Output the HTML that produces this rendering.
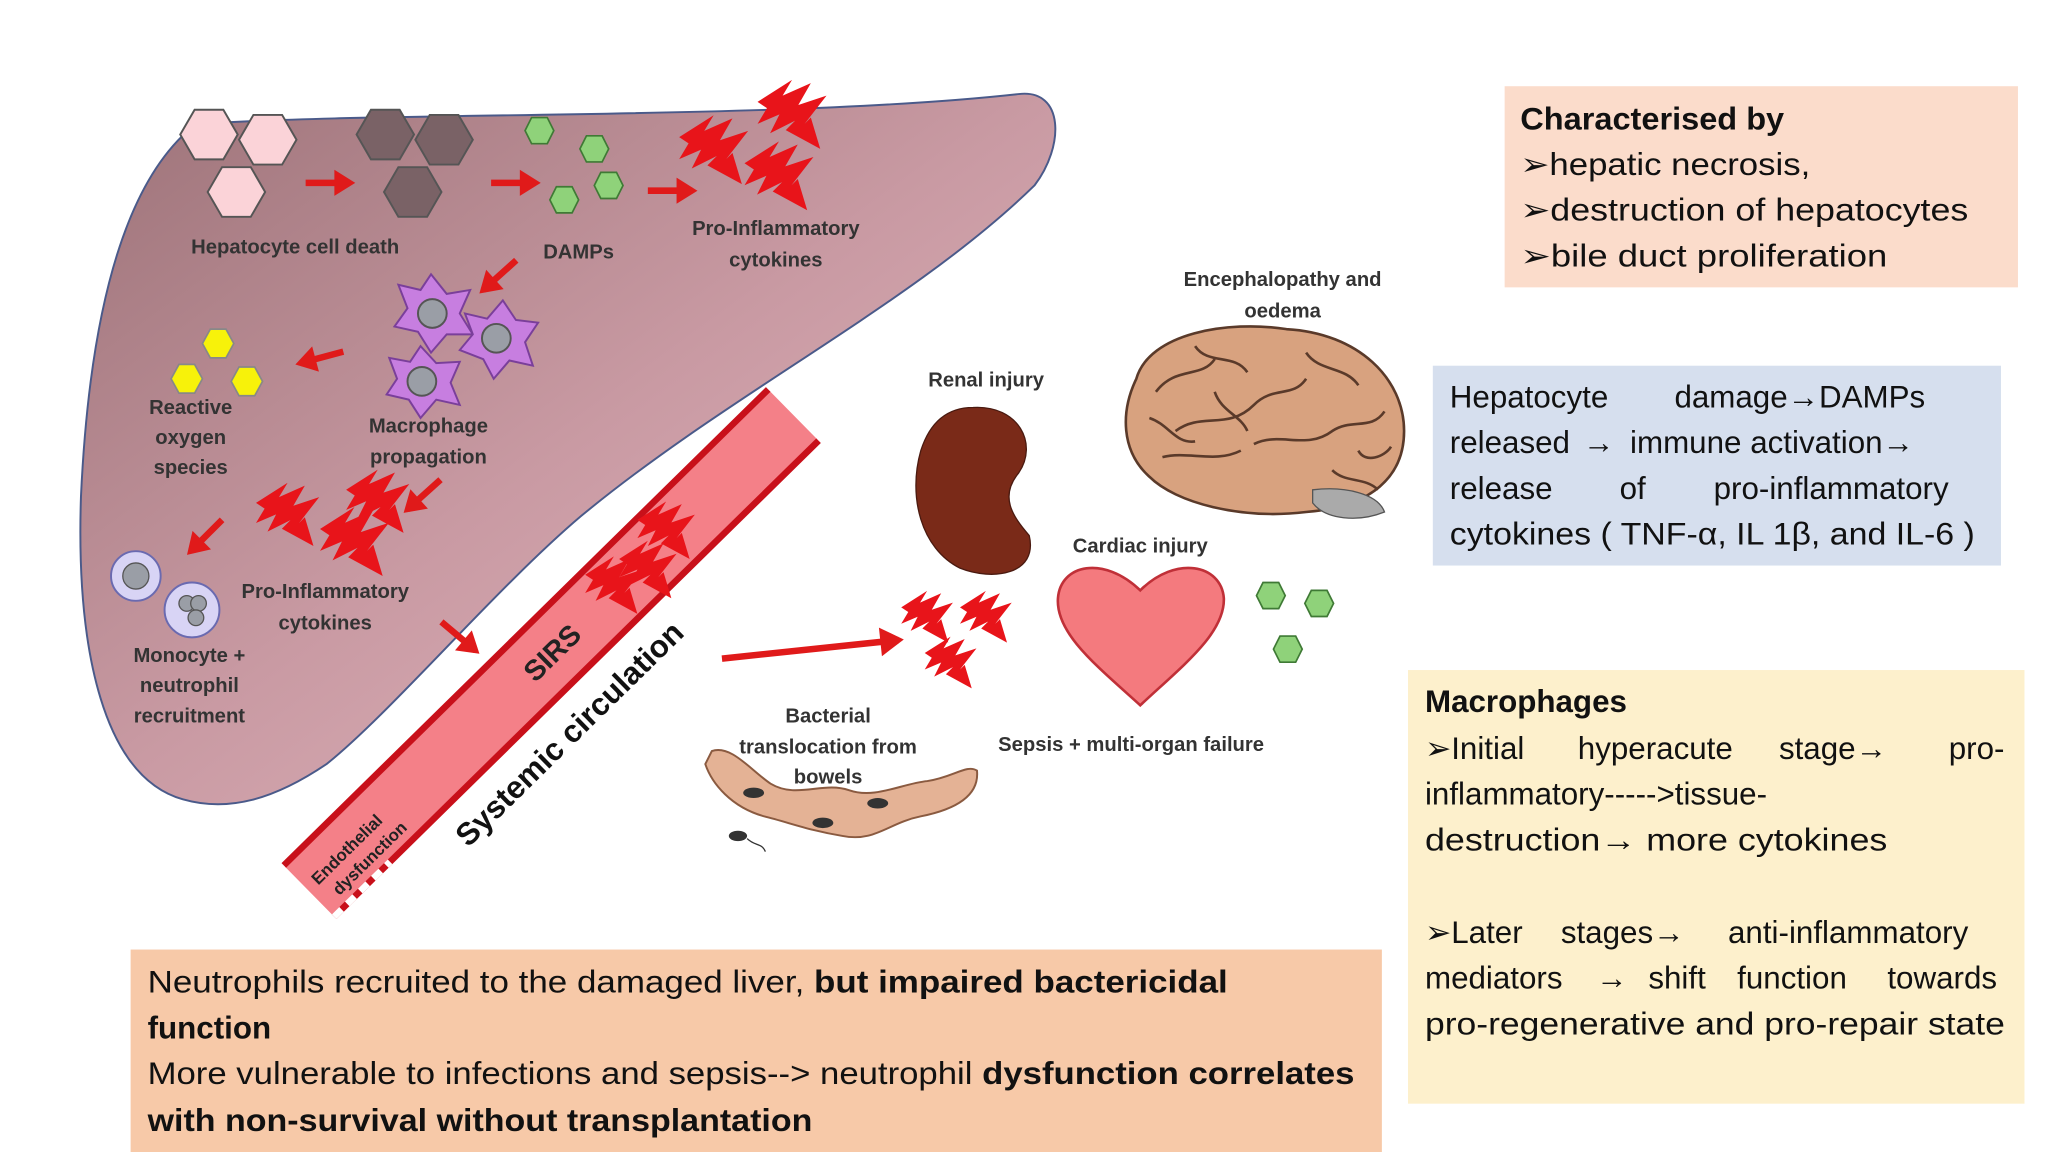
<!DOCTYPE html>
<html><head><meta charset="utf-8"><style>
html,body{margin:0;padding:0;background:#fff}
svg{display:block}
.lb{font-family:"Liberation Sans",sans-serif;font-weight:bold;font-size:15.5px;fill:#333;text-anchor:middle}
.bx{font-family:"Liberation Sans",sans-serif;font-size:24px;fill:#111}
</style></head><body>
<svg width="2048" height="1152" viewBox="0 0 1568 882" preserveAspectRatio="none" xmlns="http://www.w3.org/2000/svg">
<defs>
<linearGradient id="lg" x1="0" y1="0" x2="1" y2="1">
<stop offset="0" stop-color="#9c7278"/><stop offset="0.5" stop-color="#c99aa3"/><stop offset="1" stop-color="#e6bcc3"/>
</linearGradient>
<polygon id="bolt" points="0,0 22,-14 16,-4 34,-12 26,2 44,-4 30,14 34,10 40,30 18,18 24,12 8,20 14,8 0,14 6,4" fill="#e8141a"/>
<g id="arr"><line x1="0" y1="0" x2="-34" y2="0" stroke="#e01a1a" stroke-width="5"/><polygon points="4,0 -12,-10 -12,10" fill="#e01a1a"/></g>
</defs>
<rect width="1568" height="882" fill="#fff"/>
<path d="M140,612 C80,595 58,500 62,380 C68,250 92,140 150,95 C300,85 600,92 780,72 C815,68 815,112 792,142 C700,232 560,300 445,395 C380,450 300,545 250,585 C210,612 175,622 140,612 Z" fill="url(#lg)" stroke="#4a5a8a" stroke-width="1.5"/>
<g stroke="#555" stroke-width="1.5">
<g fill="#fbd3d8">
<polygon points="138,103 149,84 171,84 182,103 171,122 149,122"/>
<polygon points="183,107 194,88 216,88 227,107 216,126 194,126"/>
<polygon points="159,147 170,128 192,128 203,147 192,166 170,166"/>
</g>
<g fill="#7a6266">
<polygon points="273,103 284,84 306,84 317,103 306,122 284,122"/>
<polygon points="318,107 329,88 351,88 362,107 351,126 329,126"/>
<polygon points="294,147 305,128 327,128 338,147 327,166 305,166"/>
</g>
</g>
<g fill="#8fd27a" stroke="#3f7a35" stroke-width="1.3">
<polygon points="402,100 407,90 419,90 424,100 419,110 407,110"/>
<polygon points="444,114 449,104 461,104 466,114 461,124 449,124"/>
<polygon points="421,153 426,143 438,143 443,153 438,163 426,163"/>
<polygon points="455,142 460,132 472,132 477,142 472,152 460,152"/>
<polygon points="552,343 557,333 569,333 574,343 569,353 557,353"/>
<polygon points="521,371 526,361 538,361 543,371 538,381 526,381"/>
<polygon points="555,374 560,364 572,364 577,374 572,384 560,384"/>
<polygon points="962,456 967,446 979,446 984,456 979,466 967,466"/>
<polygon points="999,462 1004,452 1016,452 1021,462 1016,472 1004,472"/>
<polygon points="975,497 980,487 992,487 997,497 992,507 980,507"/>
</g>
<g fill="#f7f20a" stroke="#888" stroke-width="1.3">
<polygon points="155,263 161,252 173,252 179,263 173,274 161,274"/>
<polygon points="131,290 137,279 149,279 155,290 149,301 137,301"/>
<polygon points="177,292 183,281 195,281 201,292 195,303 183,303"/>
</g>
<use href="#bolt" transform="translate(520,105) scale(1.2)"/>
<use href="#bolt" transform="translate(580,78) scale(1.2)"/>
<use href="#bolt" transform="translate(570,125) scale(1.2)"/>
<use href="#bolt" transform="translate(196,385) scale(1.1)"/>
<use href="#bolt" transform="translate(265,375) scale(1.1)"/>
<use href="#bolt" transform="translate(245,405) scale(1.2)"/>
<use href="#bolt" transform="translate(690,465) scale(0.9)"/>
<use href="#bolt" transform="translate(735,465) scale(0.9)"/>
<use href="#bolt" transform="translate(708,500) scale(0.9)"/>
<use href="#arr" transform="translate(268,140)"/>
<use href="#arr" transform="translate(410,140)"/>
<use href="#arr" transform="translate(530,146)"/>
<use href="#arr" transform="translate(370,222) rotate(138)"/>
<use href="#arr" transform="translate(230,278) rotate(165)"/>
<use href="#arr" transform="translate(312,390) rotate(138)"/>
<use href="#arr" transform="translate(146,422) rotate(135)"/>
<use href="#arr" transform="translate(364,498) rotate(40)"/>
<g transform="translate(688,490) rotate(-6)"><line x1="0" y1="0" x2="-136" y2="0" stroke="#e01a1a" stroke-width="5"/><polygon points="4,0 -14,-11 -14,11" fill="#e01a1a"/></g>
<g fill="#c77ee0" stroke="#7a3f9a" stroke-width="1.5">
<polygon points="330,210 342,225 360,222 352,240 362,256 342,256 330,270 320,254 302,250 312,236 305,218 322,222"/>
<polygon points="385,230 395,245 412,247 402,262 408,280 390,276 378,290 370,275 352,268 362,256 356,240 373,244"/>
<polygon points="322,265 334,278 352,277 345,293 352,310 334,306 322,320 313,306 296,302 304,290 298,274 314,277"/>
</g>
<g fill="#9a9ea6" stroke="#555" stroke-width="1.5">
<circle cx="331" cy="240" r="11"/><circle cx="380" cy="259" r="11"/><circle cx="323" cy="292" r="11"/>
</g>
<circle cx="104" cy="441" r="19" fill="#d8d4f5" stroke="#6a6ab0" stroke-width="1.5"/>
<circle cx="104" cy="441" r="10" fill="#9a9ea6" stroke="#555"/>
<circle cx="147" cy="467" r="21" fill="#d8d4f5" stroke="#6a6ab0" stroke-width="1.5"/>
<circle cx="143" cy="462" r="6" fill="#9a9ea6" stroke="#555"/><circle cx="152" cy="462" r="6" fill="#9a9ea6" stroke="#555"/><circle cx="150" cy="473" r="6" fill="#9a9ea6" stroke="#555"/>
<g transform="translate(422,500) rotate(-44.5)">
<rect x="-260" y="-26" width="520" height="52" fill="#f48088"/>
<rect x="-260" y="-30" width="520" height="5" fill="#c8101a"/>
<rect x="-260" y="25" width="520" height="5" fill="#c8101a"/>
<text x="-25" y="8" font-family="Liberation Sans,sans-serif" font-weight="bold" font-size="22" fill="#222">SIRS</text>
<text x="-150" y="62" font-family="Liberation Sans,sans-serif" font-weight="bold" font-size="24" fill="#111">Systemic circulation</text>
<text x="-252" y="2" font-family="Liberation Sans,sans-serif" font-weight="bold" font-size="13" fill="#222">Endothelial</text>
<text x="-246" y="19" font-family="Liberation Sans,sans-serif" font-weight="bold" font-size="13" fill="#222">dysfunction</text>
<line x1="-260" y1="27.5" x2="-200" y2="27.5" stroke="#fff" stroke-width="5" stroke-dasharray="8 6"/>
</g>
<use href="#bolt" transform="translate(448,440) scale(1.0)"/>
<use href="#bolt" transform="translate(488,398) scale(1.0)"/>
<use href="#bolt" transform="translate(474,428) scale(1.0)"/>
<path d="M745,312 C780,310 795,340 780,362 C765,380 775,395 788,410 C795,440 760,445 735,435 C705,420 695,380 705,345 C713,320 728,312 745,312 Z" fill="#7a2a18" stroke="#4a1a10"/>
<path d="M870,290 C880,255 940,245 985,252 C1040,255 1075,290 1075,330 C1075,365 1050,388 1000,392 C950,398 900,385 880,365 C858,345 858,315 870,290 Z" fill="#d8a27f" stroke="#5a3a2a" stroke-width="2"/>
<g fill="none" stroke="#5a3a2a" stroke-width="2">
<path d="M885,300 C900,280 920,290 930,275 M900,330 C920,315 940,330 960,310 C975,295 990,305 1000,290 M890,350 C910,345 930,355 950,345 M960,340 C980,330 1000,345 1020,330 C1035,320 1050,330 1060,315 M1000,270 C1010,285 1030,280 1040,295 M915,265 C925,280 945,270 955,285 M1020,360 C1030,370 1045,365 1055,375 M930,300 C935,315 950,318 955,330 M880,320 C895,325 900,340 915,338 M1040,345 C1045,355 1060,350 1065,342"/>
</g>
<path d="M1005,375 C1030,372 1055,378 1060,392 C1040,400 1015,398 1005,385 Z" fill="#aaa" stroke="#555"/>
<path d="M873,540 C840,510 808,485 810,458 C812,432 845,425 873,452 C900,425 935,432 937,458 C938,485 905,510 873,540 Z" fill="#f47a7e" stroke="#c03038" stroke-width="2"/>
<path d="M545,575 C560,570 575,590 590,600 C610,612 630,598 650,605 C670,612 690,600 710,598 C730,595 740,585 748,590 C750,610 730,620 705,625 C680,630 670,645 645,640 C620,636 605,630 585,625 C560,618 545,600 540,585 Z" fill="#e4b295" stroke="#8a5a40" stroke-width="1.5"/>
<g fill="#333"><ellipse cx="577" cy="607" rx="8" ry="4"/><ellipse cx="630" cy="630" rx="8" ry="4"/><ellipse cx="672" cy="615" rx="8" ry="4"/><ellipse cx="565" cy="640" rx="7" ry="4"/></g>
<path d="M572,642 C578,648 583,645 586,652" stroke="#333" fill="none"/>
<text class="lb" x="226" y="194">Hepatocyte cell death</text>
<text class="lb" x="443" y="198">DAMPs</text>
<text class="lb" x="594" y="180">Pro-Inflammatory</text>
<text class="lb" x="594" y="204">cytokines</text>
<text class="lb" x="146" y="317">Reactive</text>
<text class="lb" x="146" y="340">oxygen</text>
<text class="lb" x="146" y="363">species</text>
<text class="lb" x="328" y="331">Macrophage</text>
<text class="lb" x="328" y="355">propagation</text>
<text class="lb" x="249" y="458">Pro-Inflammatory</text>
<text class="lb" x="249" y="482">cytokines</text>
<text class="lb" x="145" y="507">Monocyte +</text>
<text class="lb" x="145" y="530">neutrophil</text>
<text class="lb" x="145" y="553">recruitment</text>
<text class="lb" x="755" y="296">Renal injury</text>
<text class="lb" x="982" y="219">Encephalopathy and</text>
<text class="lb" x="982" y="243">oedema</text>
<text class="lb" x="873" y="423">Cardiac injury</text>
<text class="lb" x="866" y="575">Sepsis + multi-organ failure</text>
<text class="lb" x="634" y="553">Bacterial</text>
<text class="lb" x="634" y="577">translocation from</text>
<text class="lb" x="634" y="600">bowels</text>
<rect x="1152" y="66" width="393" height="154" fill="#fbdccb"/>
<text class="bx" x="1164" y="99" font-weight="bold" textLength="202" lengthAdjust="spacingAndGlyphs">Characterised by</text>
<text class="bx" x="1164" y="134" textLength="222" lengthAdjust="spacingAndGlyphs">➢hepatic necrosis,</text>
<text class="bx" x="1164" y="169" textLength="343" lengthAdjust="spacingAndGlyphs">➢destruction of hepatocytes</text>
<text class="bx" x="1164" y="204" textLength="281" lengthAdjust="spacingAndGlyphs">➢bile duct proliferation</text>
<rect x="1097" y="280" width="435" height="153" fill="#d6dfee"/>
<text class="bx" x="1110" y="312"><tspan>Hepatocyte</tspan><tspan x="1282">damage→DAMPs</tspan></text>
<text class="bx" x="1110" y="347"><tspan>released</tspan><tspan x="1212">→</tspan><tspan x="1248">immune</tspan><tspan x="1340">activation→</tspan></text>
<text class="bx" x="1110" y="382"><tspan>release</tspan><tspan x="1240">of</tspan><tspan x="1312">pro-inflammatory</tspan></text>
<text class="bx" x="1110" y="417" textLength="402" lengthAdjust="spacingAndGlyphs">cytokines ( TNF-α, IL 1β, and IL-6 )</text>
<rect x="1078" y="513" width="472" height="332" fill="#fdf0cc"/>
<text class="bx" x="1091" y="545" font-weight="bold">Macrophages</text>
<text class="bx" x="1091" y="581"><tspan>➢Initial</tspan><tspan x="1208">hyperacute</tspan><tspan x="1362">stage→</tspan><tspan x="1492">pro-</tspan></text>
<text class="bx" x="1091" y="616">inflammatory-----&gt;tissue-</text>
<text class="bx" x="1091" y="651" textLength="354" lengthAdjust="spacingAndGlyphs">destruction→ more cytokines</text>
<text class="bx" x="1091" y="722"><tspan>➢Later</tspan><tspan x="1195">stages→</tspan><tspan x="1323">anti-inflammatory</tspan></text>
<text class="bx" x="1091" y="757"><tspan>mediators</tspan><tspan x="1222">→</tspan><tspan x="1262">shift</tspan><tspan x="1330">function</tspan><tspan x="1445">towards</tspan></text>
<text class="bx" x="1091" y="792" textLength="444" lengthAdjust="spacingAndGlyphs">pro-regenerative and pro-repair state</text>
<rect x="100" y="727" width="958" height="155" fill="#f7c9a8"/>
<text class="bx" x="113" y="760" textLength="827" lengthAdjust="spacingAndGlyphs">Neutrophils recruited to the damaged liver, <tspan font-weight="bold">but impaired bactericidal</tspan></text>
<text class="bx" x="113" y="795" font-weight="bold">function</text>
<text class="bx" x="113" y="830" textLength="924" lengthAdjust="spacingAndGlyphs">More vulnerable to infections and sepsis--&gt; neutrophil <tspan font-weight="bold">dysfunction correlates</tspan></text>
<text class="bx" x="113" y="866" font-weight="bold" textLength="509" lengthAdjust="spacingAndGlyphs">with non-survival without transplantation</text>
</svg>
</body></html>
